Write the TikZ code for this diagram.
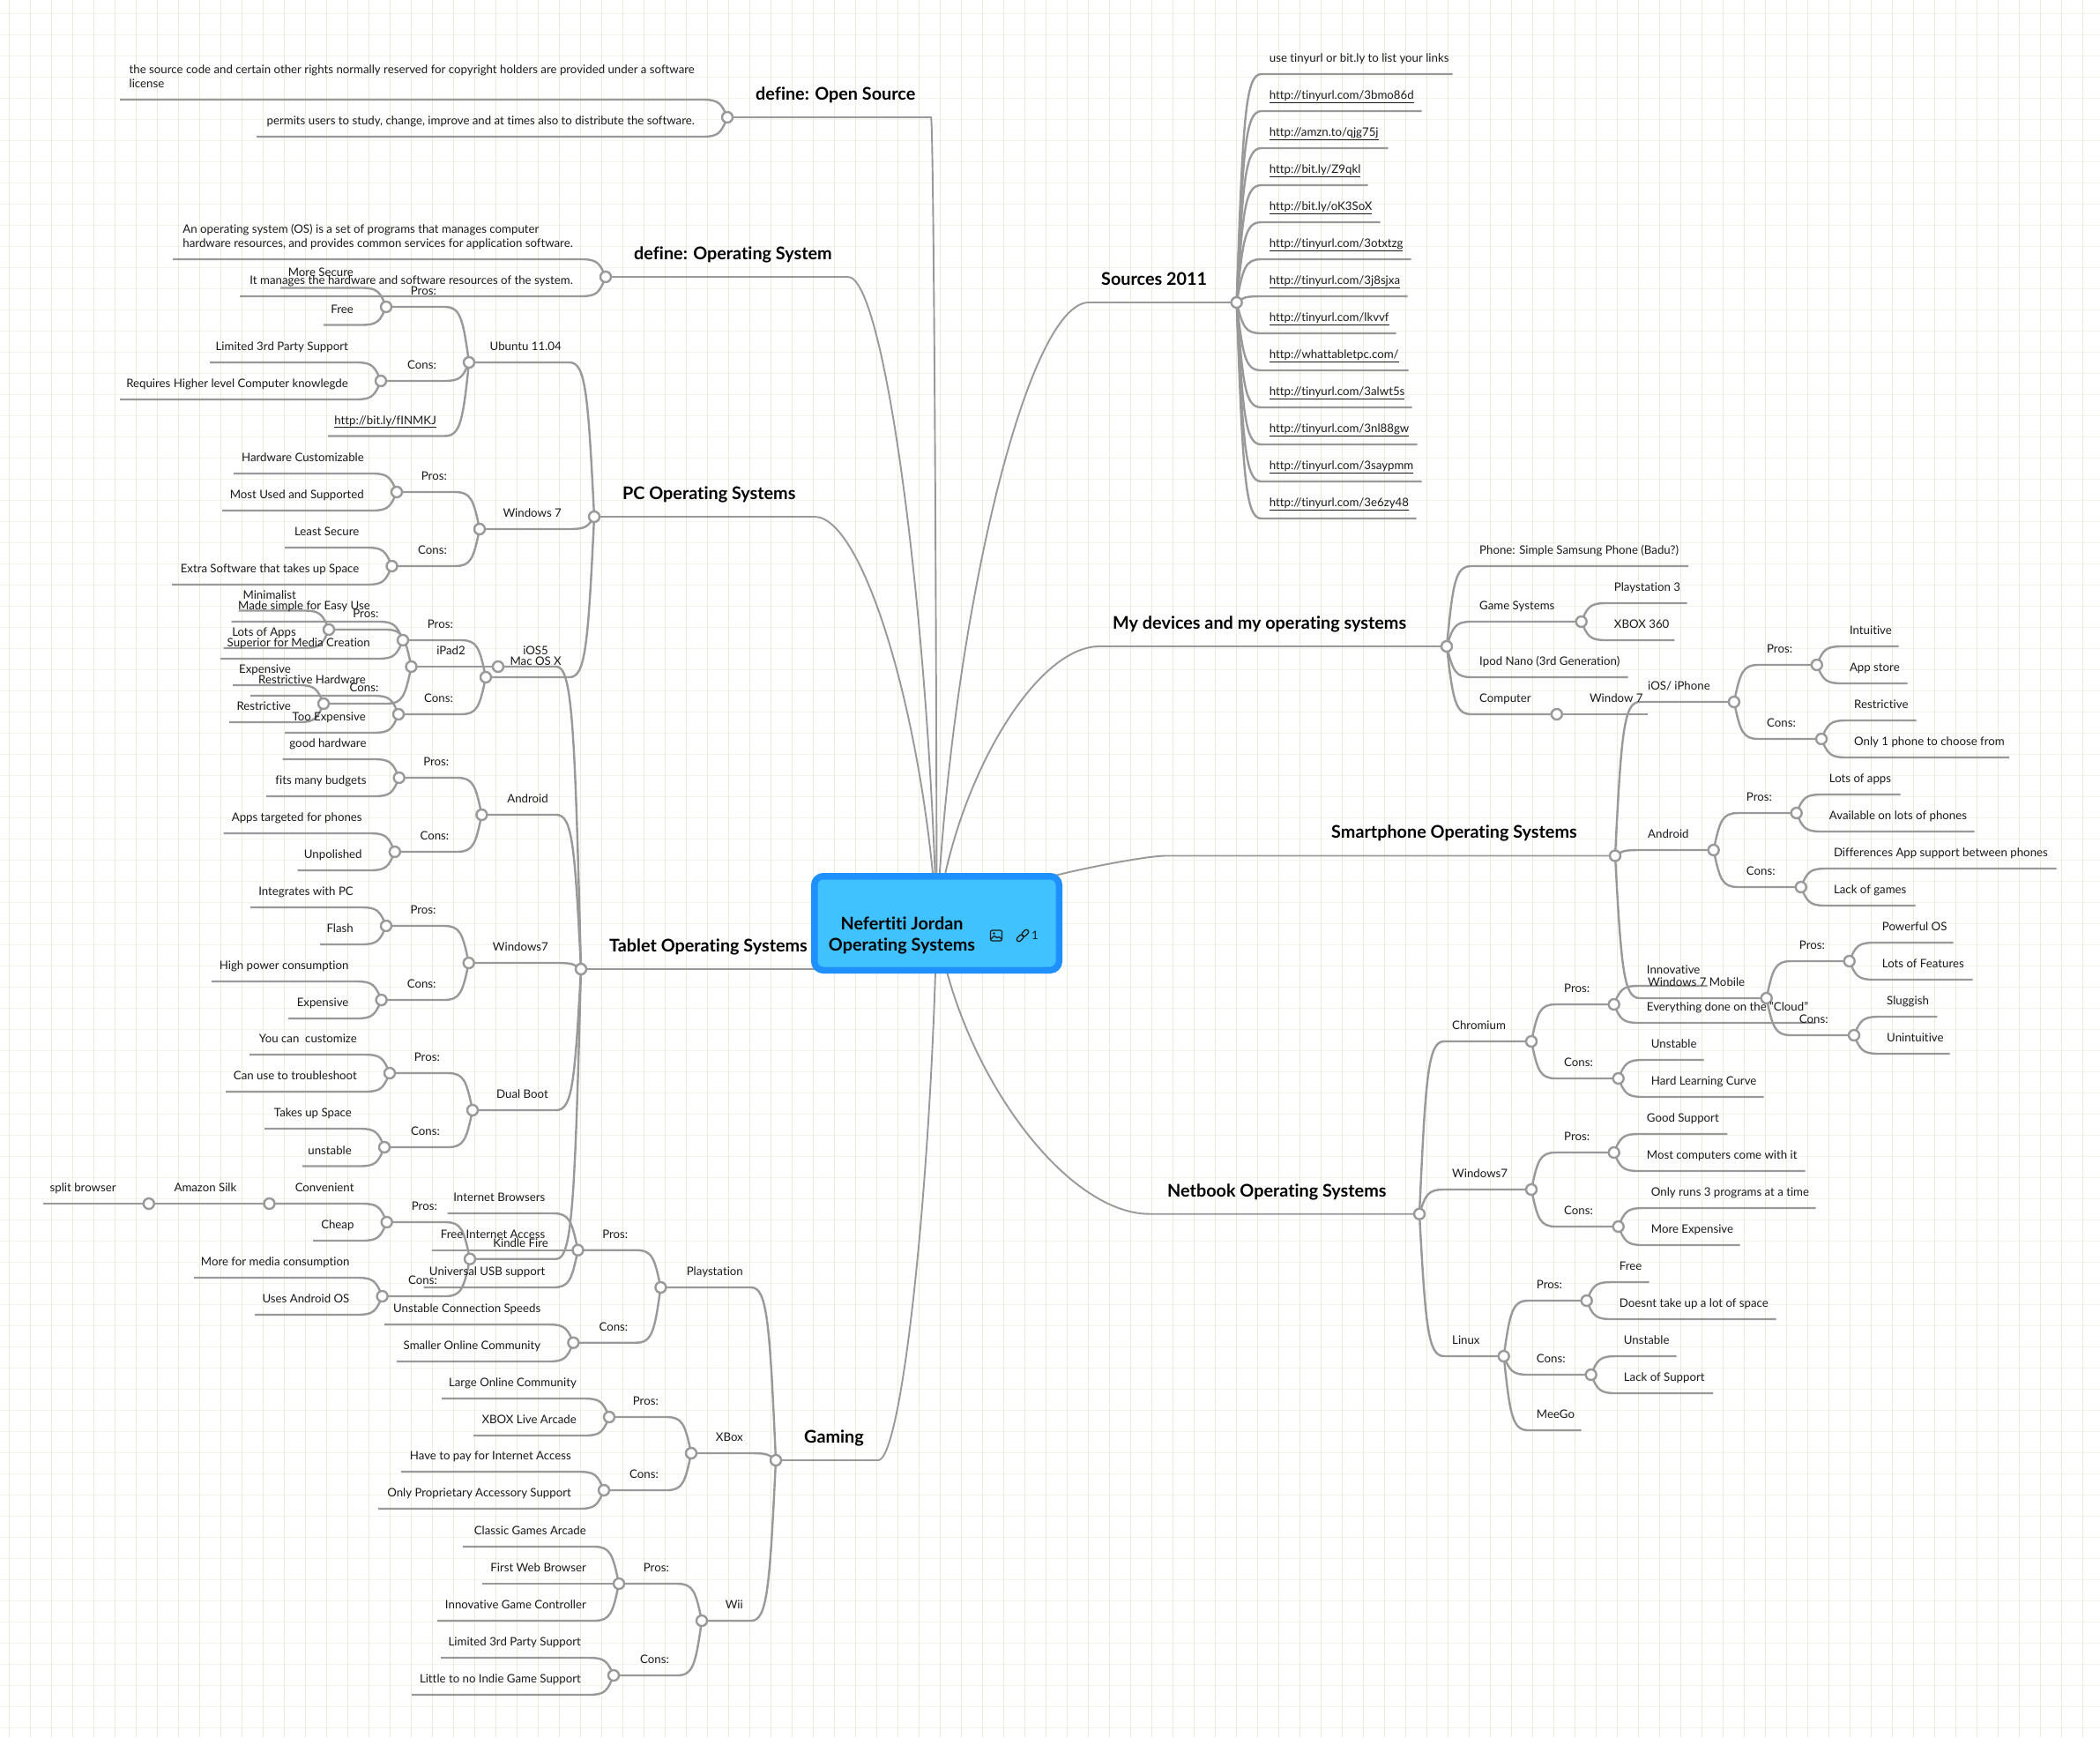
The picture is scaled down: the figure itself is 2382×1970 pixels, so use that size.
\documentclass[tikz,border=0pt]{standalone}
\usepackage{fontspec}
\setmainfont{Lato}[Ligatures=NoCommon]
\usetikzlibrary{calc,positioning}
\pgfdeclarelayer{edges}
\pgfsetlayers{edges,main}
\definecolor{wire}{HTML}{999999}
\definecolor{ink}{HTML}{1A1A1A}
\definecolor{rootfill}{HTML}{3FC2FF}
\definecolor{rootline}{HTML}{1E90FF}
\definecolor{gridv}{HTML}{E6EEDC}
\definecolor{gridh}{HTML}{F1F4EA}
\tikzset{
  txt/.style={inner sep=0pt,text=ink,font=\fontsize{13.25}{16.5}\selectfont},
  head/.style={inner sep=0pt,text=black,font=\fontsize{19.8}{24}\selectfont\bfseries},
  junct/.style={circle,draw=wire,fill=white,line width=2.4pt,minimum size=12pt,inner sep=0pt},
  link/.style={draw=wire,line width=2.4pt},
  trunkline/.style={draw=wire,line width=1.9pt},
  fan/.style={to path={let \p1=(\tikztostart),\p2=(\tikztotarget) in
    .. controls ({\x1+0.25*(#1pt)},{\y1+0.8*(\y2-\y1)}) and ({\x1+0.35*(#1pt)},\y2) .. ({\x1+(#1pt)},\y2) -- (\tikztotarget)}},
  trunk/.style={to path={let \p1=(\tikztostart),\p2=(\tikztotarget) in
    .. controls ({\x1+0.1*(\x2-\x1)},{\y1+0.5*(\y2-\y1)}) and ({\x2+#1*(\x1-\x2)},\y2) .. (\tikztotarget)}},
  trunk/.default=0.4
}
% branch going left of its parent: [end style]{parent}{name}{far x}{y}{text}
\newcommand{\lbr}[6][coordinate]{%
  \node[#1] (#3) at (#4,#5) {};
  \path let \p1=(#2.center),\p2=(#3.center) in node[txt,anchor=base east] (#3t) at (\x1-37pt,\y2+13.5pt) {#6};
  \begin{pgfonlayer}{edges}\draw[link] (#2.center) to[fan=-28] (#3.center);\end{pgfonlayer}}
% same, going right
\newcommand{\rbr}[6][coordinate]{%
  \node[#1] (#3) at (#4,#5) {};
  \path let \p1=(#2.center),\p2=(#3.center) in node[txt,anchor=base west] (#3t) at (\x1+37pt,\y2+13.5pt) {#6};
  \begin{pgfonlayer}{edges}\draw[link] (#2.center) to[fan=28] (#3.center);\end{pgfonlayer}}
\newcommand{\twolines}[2]{\begin{tabular}[b]{@{}l@{}}#1\\#2\end{tabular}}
\begin{document}
\begin{tikzpicture}[x=1pt,y=-1pt]
  \useasboundingbox (0,0) rectangle (2382,1970);
  \begin{pgfonlayer}{edges}
    \fill[white] (0,0) rectangle (2382,1970);
    \foreach \gy in {15.3,39.3,...,1970} \draw[gridh,line width=1pt] (0,\gy) -- (2382,\gy);
    \foreach \gx in {10.3,34.3,...,2382} \draw[gridv,line width=1pt] (\gx,0) -- (\gx,1970);
  \end{pgfonlayer}

  % root
  \node[draw=rootline,fill=rootfill,line width=7.5pt,rounded corners=10pt,minimum width=277.5pt,minimum height=106.5pt,inner sep=0pt] (root) at (1062.5,1047) {};
  \node[head,align=center,anchor=center] (roott) at (1023,1061) {Nefertiti Jordan\\Operating Systems};
  \node[txt,anchor=center] (rootn) at (1174,1061) {1};
  % image icon
  \draw[ink,line width=1.2pt,rounded corners=2pt] (1123.5,1055) rectangle (1136.5,1067);
  \draw[ink,line width=1.2pt,rounded corners=1pt] (1124,1065) -- (1128,1061) -- (1131,1064) -- (1133,1062) -- (1136,1065);
  \fill[ink] (1127.5,1058.5) circle (1.4pt);
  % link icon
  \draw[ink,line width=1.2pt,rounded corners=2.5pt,rotate around={45:(1160,1061)}] (1151.5,1058.5) rectangle (1160.5,1063.5);
  \draw[ink,line width=1.2pt,rounded corners=2.5pt,rotate around={45:(1160,1061)}] (1159.5,1058.5) rectangle (1168.5,1063.5);

  % main topics
  \node[junct] (osrc) at (825,133) {};
  \node[junct] (osys) at (687,314) {};
  \node[junct] (pc) at (674,586) {};
  \node[junct] (tab) at (659,1099) {};
  \node[junct] (game) at (880,1656) {};
  \node[junct] (srcs) at (1402.7,343) {};
  \node[junct] (dev) at (1641,733) {};
  \node[junct] (smart) at (1832,970.5) {};
  \node[junct] (net) at (1610,1376.7) {};
  \coordinate (osrcb) at (1056,133);
  \coordinate (osysb) at (962,314);
  \coordinate (pcb) at (924,586);
  \coordinate (gameb) at (996,1656);
  \coordinate (srcsb) at (1235,343);
  \coordinate (devb) at (1247,733);
  \coordinate (smartb) at (1322,970.5);
  \coordinate (netb) at (1304,1376.7);
  \node[head,anchor=base west] (osrct) at (857,113) {define: Open Source};
  \node[head,anchor=base west] (osyst) at (719,294) {define: Operating System};
  \node[head,anchor=base west] (pct) at (706,566) {PC Operating Systems};
  \node[head,anchor=base west] (tabt) at (691,1079) {Tablet Operating Systems};
  \node[head,anchor=base west] (gamet) at (912,1636) {Gaming};
  \node[head,anchor=base west] (srcst) at (1249,323) {Sources 2011};
  \node[head,anchor=base west] (devt) at (1262,713) {My devices and my operating systems};
  \node[head,anchor=base west] (smartt) at (1510,950) {Smartphone Operating Systems};
  \node[head,anchor=base west] (nett) at (1324,1357) {Netbook Operating Systems};
  \begin{pgfonlayer}{edges}
    \draw[trunkline] (root.center) to[trunk] (osrcb) -- (osrc.center);
    \draw[trunkline] (root.center) to[trunk] (osysb) -- (osys.center);
    \draw[trunkline] (root.center) to[trunk] (pcb) -- (pc.center);
    \draw[trunkline] (root.center) -- (root.center |- tab) -- (tab.center);
    \draw[trunkline] (root.center) to[trunk] (gameb) -- (game.center);
    \draw[trunkline] (root.center) to[trunk] (srcsb) -- (srcs.center);
    \draw[trunkline] (root.center) to[trunk] (devb) -- (dev.center);
    \draw[trunkline] (root.center) to[trunk=0.12] (smartb) -- (smart.center);
    \draw[trunkline] (root.center) to[trunk] (netb) -- (net.center);
  \end{pgfonlayer}

  % definitions
  \lbr{osrc}{osa}{136}{113}{\twolines{the source code and certain other rights normally reserved for copyright holders are provided under a software}{license}}
  \lbr{osrc}{osb}{291}{155}{permits users to study, change, improve and at times also to distribute the software.}
  \lbr{osys}{oya}{196}{294}{\twolines{An operating system (OS) is a set of programs that manages computer}{hardware resources, and provides common services for application software.}}
  \lbr{osys}{oyb}{272}{336}{It manages the hardware and software resources of the system.}

  % PC
  \lbr[junct]{pc}{ubu}{532}{411}{Ubuntu 11.04}
  \lbr[junct]{ubu}{ubup}{438}{348}{Pros:}
  \lbr{ubup}{ubupa}{318}{326.5}{More Secure}
  \lbr{ubup}{ubupb}{367}{368.5}{Free}
  \lbr[junct]{ubu}{ubuc}{432}{432}{Cons:}
  \lbr{ubuc}{ubuca}{238}{411}{Limited 3rd Party Support}
  \lbr{ubuc}{ubucb}{136}{453}{Requires Higher level Computer knowlegde}
  \lbr{ubu}{ubul}{372}{494.5}{\underline{http://bit.ly/fINMKJ}}
  \lbr[junct]{pc}{wsv}{544}{600}{Windows 7}
  \lbr[junct]{wsv}{wsvp}{450}{558}{Pros:}
  \lbr{wsvp}{wsvpa}{265}{537}{Hardware Customizable}
  \lbr{wsvp}{wsvpb}{252}{579}{Most Used and Supported}
  \lbr[junct]{wsv}{wsvc}{444.5}{642}{Cons:}
  \lbr{wsvc}{wsvca}{323}{621}{Least Secure}
  \lbr{wsvc}{wsvcb}{195}{663}{Extra Software that takes up Space}
  \lbr[junct]{pc}{mac}{551}{768}{Mac OS X}
  \lbr[junct]{mac}{macp}{457}{726}{Pros:}
  \lbr{macp}{macpa}{262.5}{705}{Made simple for Easy Use}
  \lbr{macp}{macpb}{250}{747}{Superior for Media Creation}
  \lbr[junct]{mac}{macc}{452}{810}{Cons:}
  \lbr{macc}{macca}{284}{789}{Restrictive Hardware}
  \lbr{macc}{maccb}{323}{831}{Too Expensive}

  % tablets
  \lbr[junct]{tab}{ios}{565}{756}{iOS5}
  \lbr[junct]{ios}{ipad}{466.5}{756}{iPad2}
  \lbr[junct]{ipad}{ipadp}{373}{714}{Pros:}
  \lbr{ipadp}{ipadpa}{270.5}{692.5}{Minimalist}
  \lbr{ipadp}{ipadpb}{253.6}{735}{Lots of Apps}
  \lbr[junct]{ipad}{ipadc}{367}{798}{Cons:}
  \lbr{ipadc}{ipadca}{264}{777}{Expensive}
  \lbr{ipadc}{ipadcb}{260}{819}{Restrictive}
  \lbr[junct]{tab}{and}{546.4}{924}{Android}
  \lbr[junct]{and}{andp}{452.7}{882}{Pros:}
  \lbr{andp}{andpa}{320.5}{861}{good hardware}
  \lbr{andp}{andpb}{302}{903}{fits many budgets}
  \lbr[junct]{and}{andc}{447.8}{966}{Cons:}
  \lbr{andc}{andca}{253.6}{945}{Apps targeted for phones}
  \lbr{andc}{andcb}{337.5}{987}{Unpolished}
  \lbr[junct]{tab}{wse}{531.7}{1092}{Windows7}
  \lbr[junct]{wse}{wsep}{438}{1050}{Pros:}
  \lbr{wsep}{wsepa}{284}{1029}{Integrates with PC}
  \lbr{wsep}{wsepb}{363}{1071}{Flash}
  \lbr[junct]{wse}{wsec}{432.6}{1134}{Cons:}
  \lbr{wsec}{wseca}{240}{1113}{High power consumption}
  \lbr{wsec}{wsecb}{327}{1155}{Expensive}
  \lbr[junct]{tab}{dual}{536}{1259}{Dual Boot}
  \lbr[junct]{dual}{dualp}{442}{1217}{Pros:}
  \lbr{dualp}{dualpa}{283}{1196}{You can~~customize}
  \lbr{dualp}{dualpb}{256}{1238}{Can use to troubleshoot}
  \lbr[junct]{dual}{dualc}{436}{1301}{Cons:}
  \lbr{dualc}{dualca}{300}{1280}{Takes up Space}
  \lbr{dualc}{dualcb}{343}{1322.5}{unstable}
  \lbr[junct]{tab}{kin}{533}{1427.7}{Kindle Fire}
  \lbr[junct]{kin}{kinp}{438.7}{1386}{Pros:}
  \lbr[junct]{kinp}{kinpa}{305.5}{1365}{Convenient}
  \lbr[junct]{kinpa}{silk}{168.8}{1365}{Amazon Silk}
  \lbr{silk}{split}{49.4}{1365}{split browser}
  \lbr{kinp}{kinpb}{355}{1407}{Cheap}
  \lbr[junct]{kin}{kinc}{433.6}{1470}{Cons:}
  \lbr{kinc}{kinca}{220}{1449}{More for media consumption}
  \lbr{kinc}{kincb}{289}{1491}{Uses Android OS}

  % gaming
  \lbr[junct]{game}{play}{749.4}{1460}{Playstation}
  \lbr[junct]{play}{playp}{655.5}{1417.7}{Pros:}
  \lbr{playp}{playpa}{507.5}{1376}{Internet Browsers}
  \lbr{playp}{playpb}{490}{1417.7}{Free Internet Access}
  \lbr{playp}{playpc}{480.5}{1460}{Universal USB support}
  \lbr[junct]{play}{playc}{650.4}{1522.7}{Cons:}
  \lbr{playc}{playca}{436}{1502}{Unstable Connection Speeds}
  \lbr{playc}{playcb}{450}{1544}{Smaller Online Community}
  \lbr[junct]{game}{xbox}{784}{1648}{XBox}
  \lbr[junct]{xbox}{xboxp}{691}{1607}{Pros:}
  \lbr{xboxp}{xboxpa}{501}{1586}{Large Online Community}
  \lbr{xboxp}{xboxpb}{537}{1628}{XBOX Live Arcade}
  \lbr[junct]{xbox}{xboxc}{685}{1690}{Cons:}
  \lbr{xboxc}{xboxca}{455}{1669}{Have to pay for Internet Access}
  \lbr{xboxc}{xboxcb}{429}{1711}{Only Proprietary Accessory Support}
  \lbr[junct]{game}{wii}{796}{1838}{Wii}
  \lbr[junct]{wii}{wiip}{702}{1796}{Pros:}
  \lbr{wiip}{wiipa}{525}{1754}{Classic Games Arcade}
  \lbr{wiip}{wiipb}{547}{1796}{First Web Browser}
  \lbr{wiip}{wiipc}{496}{1838}{Innovative Game Controller}
  \lbr[junct]{wii}{wiic}{696}{1900}{Cons:}
  \lbr{wiic}{wiica}{500}{1880}{Limited 3rd Party Support}
  \lbr{wiic}{wiicb}{467}{1922}{Little to no Indie Game Support}

  % sources
  \rbr{srcs}{sa}{1647.7}{84}{use tinyurl or bit.ly to list your links}
  \rbr{srcs}{sb}{1612.7}{126}{\underline{http://tinyurl.com/3bmo86d}}
  \rbr{srcs}{sc}{1574.7}{168}{\underline{http://amzn.to/qjg75j}}
  \rbr{srcs}{sd}{1551.7}{210}{\underline{http://bit.ly/Z9qkl}}
  \rbr{srcs}{se}{1565.7}{252}{\underline{http://bit.ly/oK3SoX}}
  \rbr{srcs}{sf}{1600.7}{294}{\underline{http://tinyurl.com/3otxtzg}}
  \rbr{srcs}{sg}{1596.7}{336}{\underline{http://tinyurl.com/3j8sjxa}}
  \rbr{srcs}{sh}{1583.7}{378}{\underline{http://tinyurl.com/lkvvf}}
  \rbr{srcs}{si}{1597.7}{420}{\underline{http://whattabletpc.com/}}
  \rbr{srcs}{sj}{1601.7}{462}{\underline{http://tinyurl.com/3alwt5s}}
  \rbr{srcs}{sk}{1607.7}{504}{\underline{http://tinyurl.com/3nl88gw}}
  \rbr{srcs}{sl}{1612.7}{546}{\underline{http://tinyurl.com/3saypmm}}
  \rbr{srcs}{sm}{1606.7}{588}{\underline{http://tinyurl.com/3e6zy48}}

  % devices
  \rbr{dev}{phone}{1915}{642}{Phone: Simple Samsung Phone (Badu?)}
  \rbr[junct]{dev}{gsys}{1793.7}{705}{Game Systems}
  \rbr{gsys}{gsysa}{1913.5}{684}{Playstation 3}
  \rbr{gsys}{gsysb}{1899.4}{726}{XBOX 360}
  \rbr{dev}{ipod}{1846.5}{768}{Ipod Nano (3rd Generation)}
  \rbr[junct]{dev}{comp}{1765.8}{810}{Computer}
  \rbr{comp}{compa}{1869}{810}{Window 7}

  % smartphones
  \rbr[junct]{smart}{iph}{1966.9}{796}{iOS/ iPhone}
  \rbr[junct]{iph}{iphp}{2060.8}{754}{Pros:}
  \rbr{iphp}{iphpa}{2153.7}{733}{Intuitive}
  \rbr{iphp}{iphpb}{2163.6}{775}{App store}
  \rbr[junct]{iph}{iphc}{2066}{838}{Cons:}
  \rbr{iphc}{iphca}{2173.6}{817}{Restrictive}
  \rbr{iphc}{iphcb}{2279}{859}{Only 1 phone to choose from}
  \rbr[junct]{smart}{sand}{1943.7}{964}{Android}
  \rbr[junct]{sand}{sandp}{2037.7}{922}{Pros:}
  \rbr{sandp}{sandpa}{2155.6}{901}{Lots of apps}
  \rbr{sandp}{sandpb}{2239.6}{943}{Available on lots of phones}
  \rbr[junct]{sand}{sandc}{2042.8}{1006}{Cons:}
  \rbr{sandc}{sandca}{2332.6}{985}{Differences App support between phones}
  \rbr{sandc}{sandcb}{2172.6}{1027}{Lack of games}
  \rbr[junct]{smart}{wmob}{2003.7}{1132}{Windows 7 Mobile}
  \rbr[junct]{wmob}{wmobp}{2097.7}{1090}{Pros:}
  \rbr{wmobp}{wmobpa}{2215.7}{1069}{Powerful OS}
  \rbr{wmobp}{wmobpb}{2237.7}{1111}{Lots of Features}
  \rbr[junct]{wmob}{wmobc}{2103}{1174}{Cons:}
  \rbr{wmobc}{wmobca}{2197.3}{1153}{Sluggish}
  \rbr{wmobc}{wmobcb}{2211.7}{1195}{Unintuitive}

  % netbooks
  \rbr[junct]{net}{chr}{1737}{1181}{Chromium}
  \rbr[junct]{chr}{chrp}{1830.7}{1139}{Pros:}
  \rbr{chrp}{chrpa}{1936.7}{1118}{Innovative}
  \rbr{chrp}{chrpb}{2059.3}{1160}{Everything done on the "Cloud"}
  \rbr[junct]{chr}{chrc}{1835.7}{1223}{Cons:}
  \rbr{chrc}{chrca}{1932.7}{1202}{Unstable}
  \rbr{chrc}{chrcb}{2000.7}{1244}{Hard Learning Curve}
  \rbr[junct]{net}{nwse}{1737}{1349}{Windows7}
  \rbr[junct]{nwse}{nwsep}{1830.7}{1307}{Pros:}
  \rbr{nwsep}{nwsepa}{1959.3}{1286}{Good Support}
  \rbr{nwsep}{nwsepb}{2047.7}{1328}{Most computers come with it}
  \rbr[junct]{nwse}{nwsec}{1835.7}{1391}{Cons:}
  \rbr{nwsec}{nwseca}{2059.7}{1370}{Only runs 3 programs at a time}
  \rbr{nwsec}{nwsecb}{1973.7}{1412}{More Expensive}
  \rbr[junct]{net}{lin}{1705.7}{1538}{Linux}
  \rbr[junct]{lin}{linp}{1799.7}{1475}{Pros:}
  \rbr{linp}{linpa}{1870.7}{1454}{Free}
  \rbr{linp}{linpb}{2014.7}{1496}{Doesnt take up a lot of space}
  \rbr[junct]{lin}{linc}{1804.7}{1559}{Cons:}
  \rbr{linc}{linca}{1901.7}{1538}{Unstable}
  \rbr{linc}{lincb}{1943}{1580}{Lack of Support}
  \rbr{lin}{meego}{1793.7}{1622}{MeeGo}
\end{tikzpicture}
\end{document}
